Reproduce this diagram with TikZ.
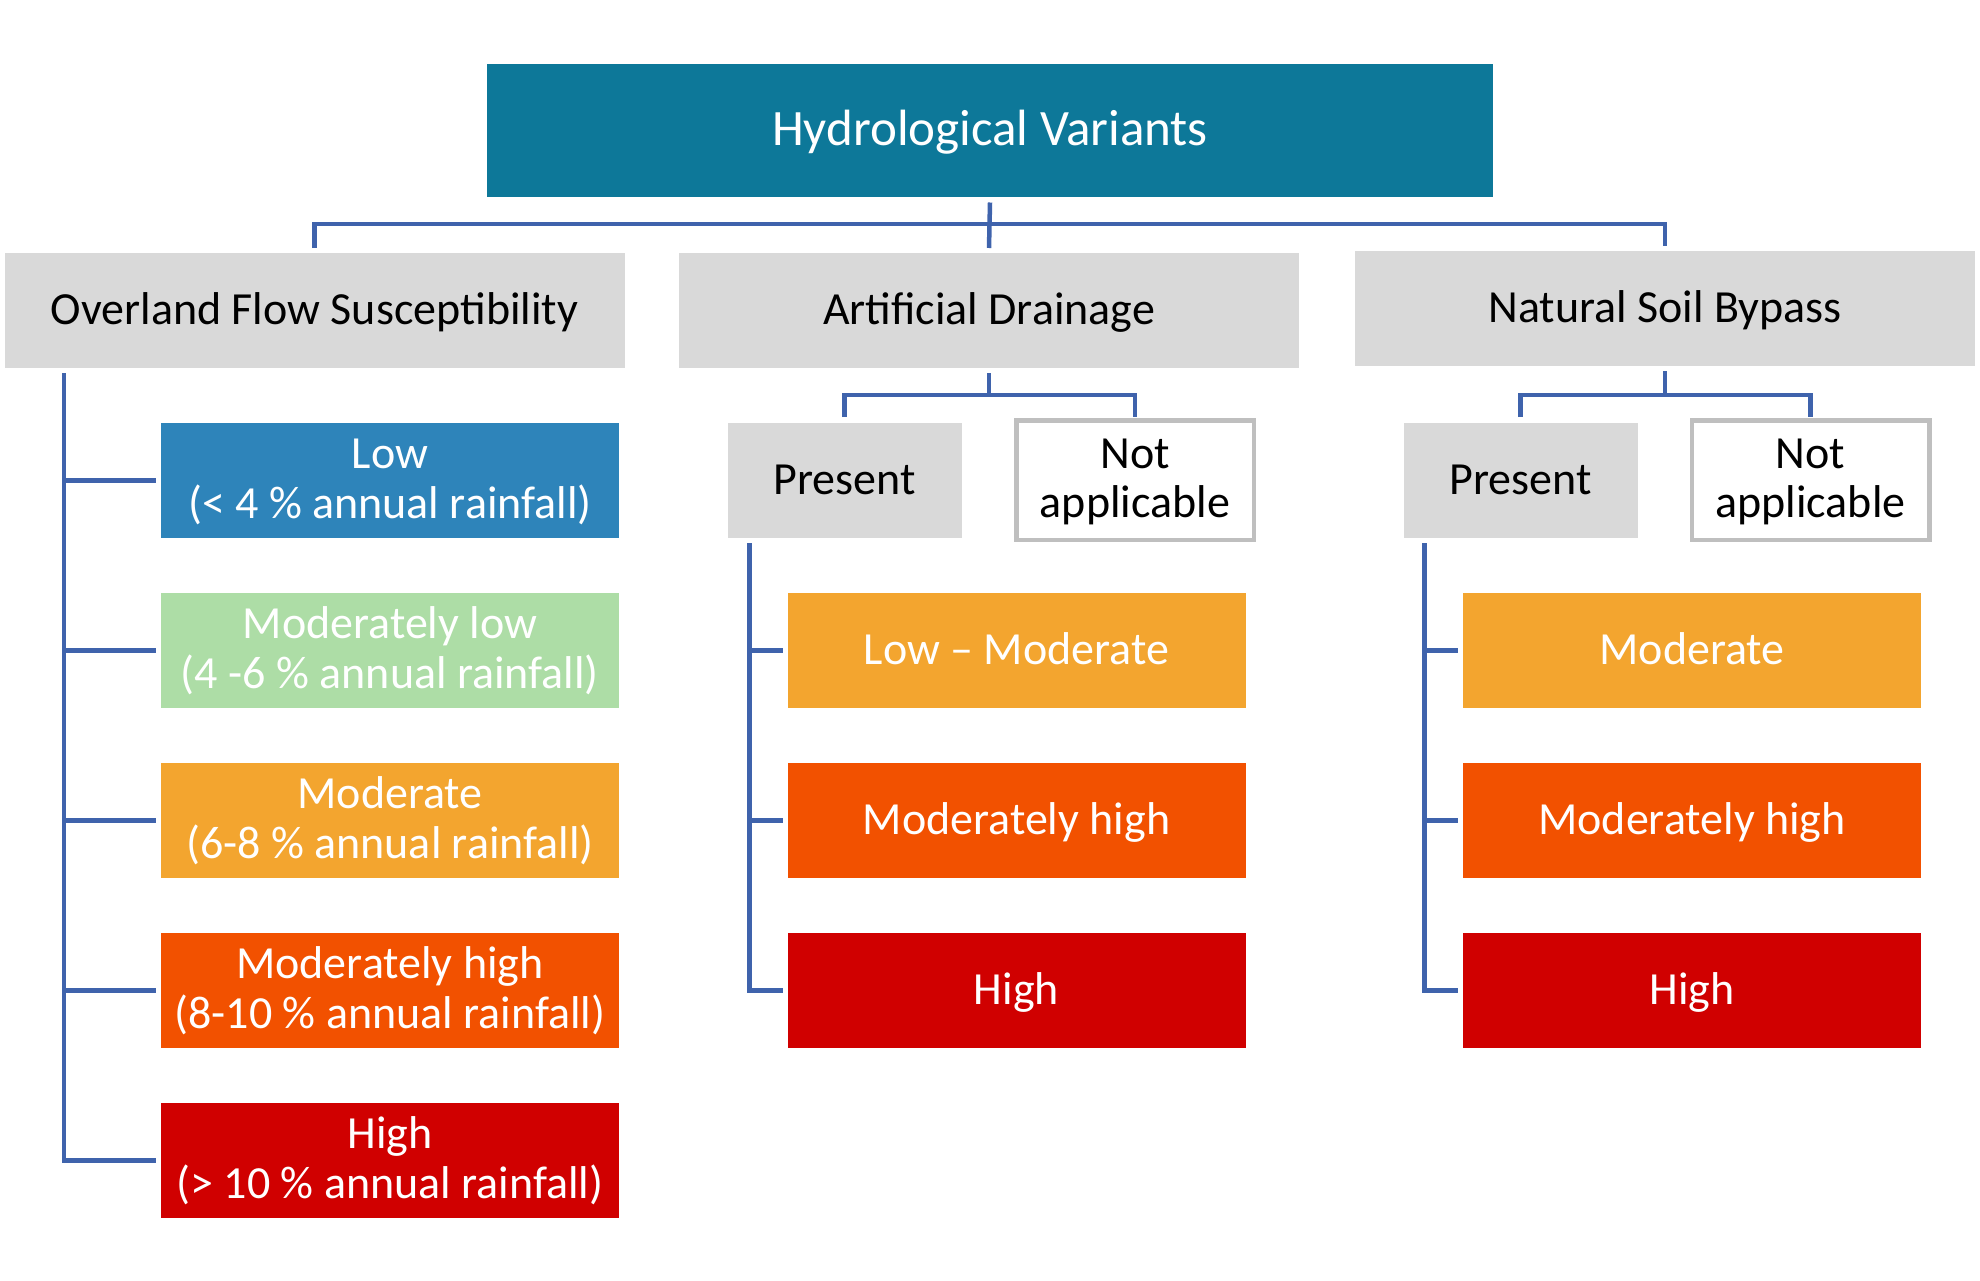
\documentclass[tikz,border=0pt]{standalone}
\usepackage{fontspec}
\setmainfont{Carlito}
\definecolor{titlec}{HTML}{0D7899}
\definecolor{grayc}{HTML}{D9D9D9}
\definecolor{lowc}{HTML}{2E84BA}
\definecolor{mlowc}{HTML}{ADDDA6}
\definecolor{modc}{HTML}{F3A52F}
\definecolor{mhighc}{HTML}{F25100}
\definecolor{highc}{HTML}{D00000}
\definecolor{connc}{HTML}{3F63AC}
\definecolor{borderc}{HTML}{BFBFBF}
\newcommand{\mytopstrut}{\rule{0pt}{37pt}}
\newcommand{\mybotstrut}{\rule[-11pt]{0pt}{11pt}}
\begin{document}
\begin{tikzpicture}[x=1pt,y=-1pt,
  box/.style={rectangle, inner sep=0pt, outer sep=0pt, align=center,
    font=\fontsize{46}{49.5}\selectfont},
  oneline/.style={text height=31pt, text depth=4pt},
  titlebox/.style={box, fill=titlec, text=white, minimum width=1006pt, minimum height=133pt,
    font=\fontsize{51}{56}\selectfont, text height=34pt, text depth=3pt},
  lvlone/.style={box, oneline, fill=grayc, minimum width=620pt, minimum height=115pt},
  presbox/.style={box, oneline, fill=grayc, minimum width=234pt, minimum height=115pt},
  nabox/.style={box, draw=borderc, line width=4.5pt, fill=white, minimum width=237.5pt, minimum height=119.5pt},
  leaf/.style={box, text=white, minimum width=458pt, minimum height=114.5pt},
  leafone/.style={leaf, oneline},
  conn/.style={draw=connc, line width=4.5pt}
]
\useasboundingbox (0,0) rectangle (1980,1280);

% title
\node[titlebox] (title) at (990,130) {Hydrological Variants};

% level one
\node[lvlone] (ovl) at (314.5,310.5) {Overland Flow Susceptibility};
\node[lvlone] (art) at (989,310.5) {Artificial Drainage};
\node[lvlone] (nsb) at (1665,308.5) {Natural Soil Bypass};

% level two
\node[presbox] (apres) at (844.5,480.5) {Present};
\node[nabox] (ana) at (1135,480) {\mytopstrut Not\\applicable\mybotstrut};
\node[presbox] (npres) at (1520.5,480.5) {Present};
\node[nabox] (nna) at (1810.5,480) {\mytopstrut Not\\applicable\mybotstrut};

% overland children
\node[leaf, fill=lowc] (o1) at (390,480.5) {\mytopstrut Low\\(< 4 \% annual rainfall)\mybotstrut};
\node[leaf, fill=mlowc] (o2) at (390,650.5) {\mytopstrut Moderately low\\(4 -6 \% annual rainfall)\mybotstrut};
\node[leaf, fill=modc] (o3) at (390,820.5) {\mytopstrut Moderate\\(6-8 \% annual rainfall)\mybotstrut};
\node[leaf, fill=mhighc] (o4) at (390,990.5) {\mytopstrut Moderately high\\(8-10 \% annual rainfall)\mybotstrut};
\node[leaf, fill=highc] (o5) at (390,1160.5) {\mytopstrut High\\(> 10 \% annual rainfall)\mybotstrut};

% artificial children
\node[leafone, fill=modc] (a1) at (1016.5,650.5) {Low – Moderate};
\node[leafone, fill=mhighc] (a2) at (1016.5,820.5) {Moderately high};
\node[leafone, fill=highc] (a3) at (1016.5,990.5) {High};

% natural children
\node[leafone, fill=modc] (n1) at (1692,650.5) {Moderate};
\node[leafone, fill=mhighc] (n2) at (1692,820.5) {Moderately high};
\node[leafone, fill=highc] (n3) at (1692,990.5) {High};

% top connectors
\coordinate (bus) at (990,224);
\draw[conn] ([yshift=-6pt]title.south) -- ([yshift=5pt]art.north);
\draw[conn] ([yshift=5pt]ovl.north) |- (bus) -| ([yshift=5pt]nsb.north);

% artificial level two connectors
\coordinate (abus) at (989,395);
\draw[conn] ([yshift=-5pt]art.south) -- (abus);
\draw[conn] ([yshift=6pt]apres.north) |- (abus) -| ([yshift=3pt]ana.north);

% natural level two connectors
\coordinate (nbus) at (1665,395);
\draw[conn] ([yshift=-5pt]nsb.south) -- (nbus);
\draw[conn] ([yshift=6pt]npres.north) |- (nbus) -| ([yshift=3pt]nna.north);

% overland spine
\coordinate (ospine) at (64,373);
\draw[conn] (ospine) |- ([xshift=-5pt]o5.west);
\foreach \n in {o1,o2,o3,o4}
  \draw[conn] (ospine |- \n.west) -- ([xshift=-5pt]\n.west);

% artificial spine
\coordinate (aspine) at (749.5,543);
\draw[conn] (aspine) |- ([xshift=-5pt]a3.west);
\foreach \n in {a1,a2}
  \draw[conn] (aspine |- \n.west) -- ([xshift=-5pt]\n.west);

% natural spine
\coordinate (nspine) at (1424.5,543);
\draw[conn] (nspine) |- ([xshift=-5pt]n3.west);
\foreach \n in {n1,n2}
  \draw[conn] (nspine |- \n.west) -- ([xshift=-5pt]\n.west);
\end{tikzpicture}
\end{document}
